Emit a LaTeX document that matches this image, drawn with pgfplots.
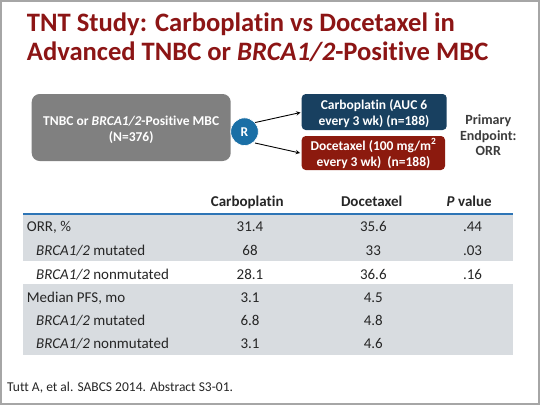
\documentclass[border=0pt]{standalone}
\usepackage{pgfplots}
\pgfplotsset{compat=1.18}
\usepackage{fontspec}
\setmainfont{Carlito}[Ligatures=NoCommon]
\definecolor{titlered}{RGB}{140,21,21}
\definecolor{boxgray}{RGB}{128,128,128}
\definecolor{rblue}{RGB}{26,111,166}
\definecolor{navy}{RGB}{24,64,96}
\definecolor{boxred}{RGB}{140,26,14}
\definecolor{rowgray}{RGB}{216,220,224}
\definecolor{lineblue}{RGB}{46,117,182}
\definecolor{txt}{RGB}{38,38,38}
\definecolor{frame}{RGB}{166,166,166}
\newcommand{\fs}[1]{\fontsize{#1bp}{#1bp}\selectfont}
\begin{document}
\begin{tikzpicture}
\begin{axis}[width=540bp, height=405bp, scale only axis,
  xmin=0, xmax=540, ymin=0, ymax=405, y dir=reverse,
  hide axis, clip=false]
% background and slide frame
\addplot[fill=white, draw=frame, line width=2bp] coordinates {(1,1) (539,1) (539,404) (1,404)} -- cycle;
% title
\node[anchor=base west, text=titlered, font=\fs{26.6}\bfseries, inner sep=0pt] at (axis cs:26.7,31.7) {TNT Study: Carboplatin vs Docetaxel in};
\node[anchor=base west, text=titlered, font=\fs{26.6}\bfseries, inner sep=0pt] at (axis cs:26.7,60) {Advanced TNBC or \textit{BRCA1/2}-Positive MBC};
% flow chart boxes
\addplot[fill=boxgray, draw=none, rounded corners=8bp] coordinates {(31.7,94) (230.7,94) (230.7,161) (31.7,161)} -- cycle;
\addplot[fill=navy, draw=none, rounded corners=4bp] coordinates {(301.7,94) (446.7,94) (446.7,130) (301.7,130)} -- cycle;
\addplot[fill=boxred, draw=none, rounded corners=4bp] coordinates {(301.7,136) (445,136) (445,170) (301.7,170)} -- cycle;
\addplot[-stealth, black, line width=0.9bp] coordinates {(253,123) (300.5,112.5)};
\addplot[-stealth, black, line width=0.9bp] coordinates {(255,143) (300,153)};
\filldraw[fill=rblue, draw=white, line width=0.6bp] (axis cs:244.5,131.7) circle[radius=13.8bp];
\node[anchor=base, text=white, font=\fs{13.5}\bfseries, inner sep=0pt] at (axis cs:131.2,125) {TNBC or \textit{BRCA1/2}-Positive MBC};
\node[anchor=base, text=white, font=\fs{13.5}\bfseries, inner sep=0pt] at (axis cs:131.2,141) {(N=376)};
\node[anchor=base, text=white, font=\fs{13.5}\bfseries, inner sep=0pt] at (axis cs:244.5,136.2) {R};
\node[anchor=base, text=white, font=\fs{13.5}\bfseries, inner sep=0pt] at (axis cs:374,109) {Carboplatin (AUC 6};
\node[anchor=base, text=white, font=\fs{13.5}\bfseries, inner sep=0pt] at (axis cs:374,125.2) {every 3 wk) (n=188)};
\node[anchor=base, text=white, font=\fs{13.5}\bfseries, inner sep=0pt] at (axis cs:373.5,150.2) {Docetaxel (100 mg/m\textsuperscript{2}};
\node[anchor=base, text=white, font=\fs{13.5}\bfseries, inner sep=0pt] at (axis cs:373.5,166.2) {every 3 wk)\ \ (n=188)};
\node[anchor=base, text=txt!90, font=\fs{14}\bfseries, inner sep=0pt] at (axis cs:488.3,124.8) {Primary};
\node[anchor=base, text=txt!90, font=\fs{14}\bfseries, inner sep=0pt] at (axis cs:488.3,140.3) {Endpoint:};
\node[anchor=base, text=txt!90, font=\fs{14}\bfseries, inner sep=0pt] at (axis cs:488.3,155.8) {ORR};
% table bands
\addplot[fill=rowgray, draw=none] coordinates {(23,214) (513,214) (513,261) (23,261)} -- cycle;
\addplot[fill=rowgray, draw=none] coordinates {(23,284.3) (513,284.3) (513,355) (23,355)} -- cycle;
\addplot[lineblue, line width=1.6bp] coordinates {(23,214) (513,214)};
% header
\node[anchor=base, text=txt, font=\fs{15}\bfseries, inner sep=0pt] at (axis cs:247.2,206.3) {Carboplatin};
\node[anchor=base, text=txt, font=\fs{15}\bfseries, inner sep=0pt] at (axis cs:371.7,206.3) {Docetaxel};
\node[anchor=base, text=txt, font=\fs{15}\bfseries, inner sep=0pt] at (axis cs:469.2,206.3) {\textit{P} value};
% rows
\node[anchor=base west, text=txt, font=\fs{15}, inner sep=0pt] at (axis cs:26.7,231.5) {ORR, \%};
\node[anchor=base west, text=txt, font=\fs{15}, inner sep=0pt] at (axis cs:36,255.8) {\textit{BRCA1/2} mutated};
\node[anchor=base west, text=txt, font=\fs{15}, inner sep=0pt] at (axis cs:36,279.1) {\textit{BRCA1/2} nonmutated};
\node[anchor=base west, text=txt, font=\fs{15}, inner sep=0pt] at (axis cs:26.7,302.5) {Median PFS, mo};
\node[anchor=base west, text=txt, font=\fs{15}, inner sep=0pt] at (axis cs:36,325.8) {\textit{BRCA1/2} mutated};
\node[anchor=base west, text=txt, font=\fs{15}, inner sep=0pt] at (axis cs:36,348.8) {\textit{BRCA1/2} nonmutated};
% values
\node[anchor=base, text=txt, font=\fs{15}, inner sep=0pt] at (axis cs:250,231.5) {31.4};
\node[anchor=base, text=txt, font=\fs{15}, inner sep=0pt] at (axis cs:250,255.8) {68};
\node[anchor=base, text=txt, font=\fs{15}, inner sep=0pt] at (axis cs:250,279.1) {28.1};
\node[anchor=base, text=txt, font=\fs{15}, inner sep=0pt] at (axis cs:250,302.5) {3.1};
\node[anchor=base, text=txt, font=\fs{15}, inner sep=0pt] at (axis cs:250,325.8) {6.8};
\node[anchor=base, text=txt, font=\fs{15}, inner sep=0pt] at (axis cs:250,348.8) {3.1};
\node[anchor=base, text=txt, font=\fs{15}, inner sep=0pt] at (axis cs:373.3,231.5) {35.6};
\node[anchor=base, text=txt, font=\fs{15}, inner sep=0pt] at (axis cs:373.3,255.8) {33};
\node[anchor=base, text=txt, font=\fs{15}, inner sep=0pt] at (axis cs:373.3,279.1) {36.6};
\node[anchor=base, text=txt, font=\fs{15}, inner sep=0pt] at (axis cs:373.3,302.5) {4.5};
\node[anchor=base, text=txt, font=\fs{15}, inner sep=0pt] at (axis cs:373.3,325.8) {4.8};
\node[anchor=base, text=txt, font=\fs{15}, inner sep=0pt] at (axis cs:373.3,348.8) {4.6};
\node[anchor=base, text=txt, font=\fs{15}, inner sep=0pt] at (axis cs:472.5,231.5) {.44};
\node[anchor=base, text=txt, font=\fs{15}, inner sep=0pt] at (axis cs:472.5,255.8) {.03};
\node[anchor=base, text=txt, font=\fs{15}, inner sep=0pt] at (axis cs:472.5,279.1) {.16};
% footnote
\node[anchor=base west, text=txt, font=\fs{13.5}, inner sep=0pt] at (axis cs:7,391) {Tutt A, et al. SABCS 2014. Abstract S3-01.};
\end{axis}
\end{tikzpicture}
\end{document}
